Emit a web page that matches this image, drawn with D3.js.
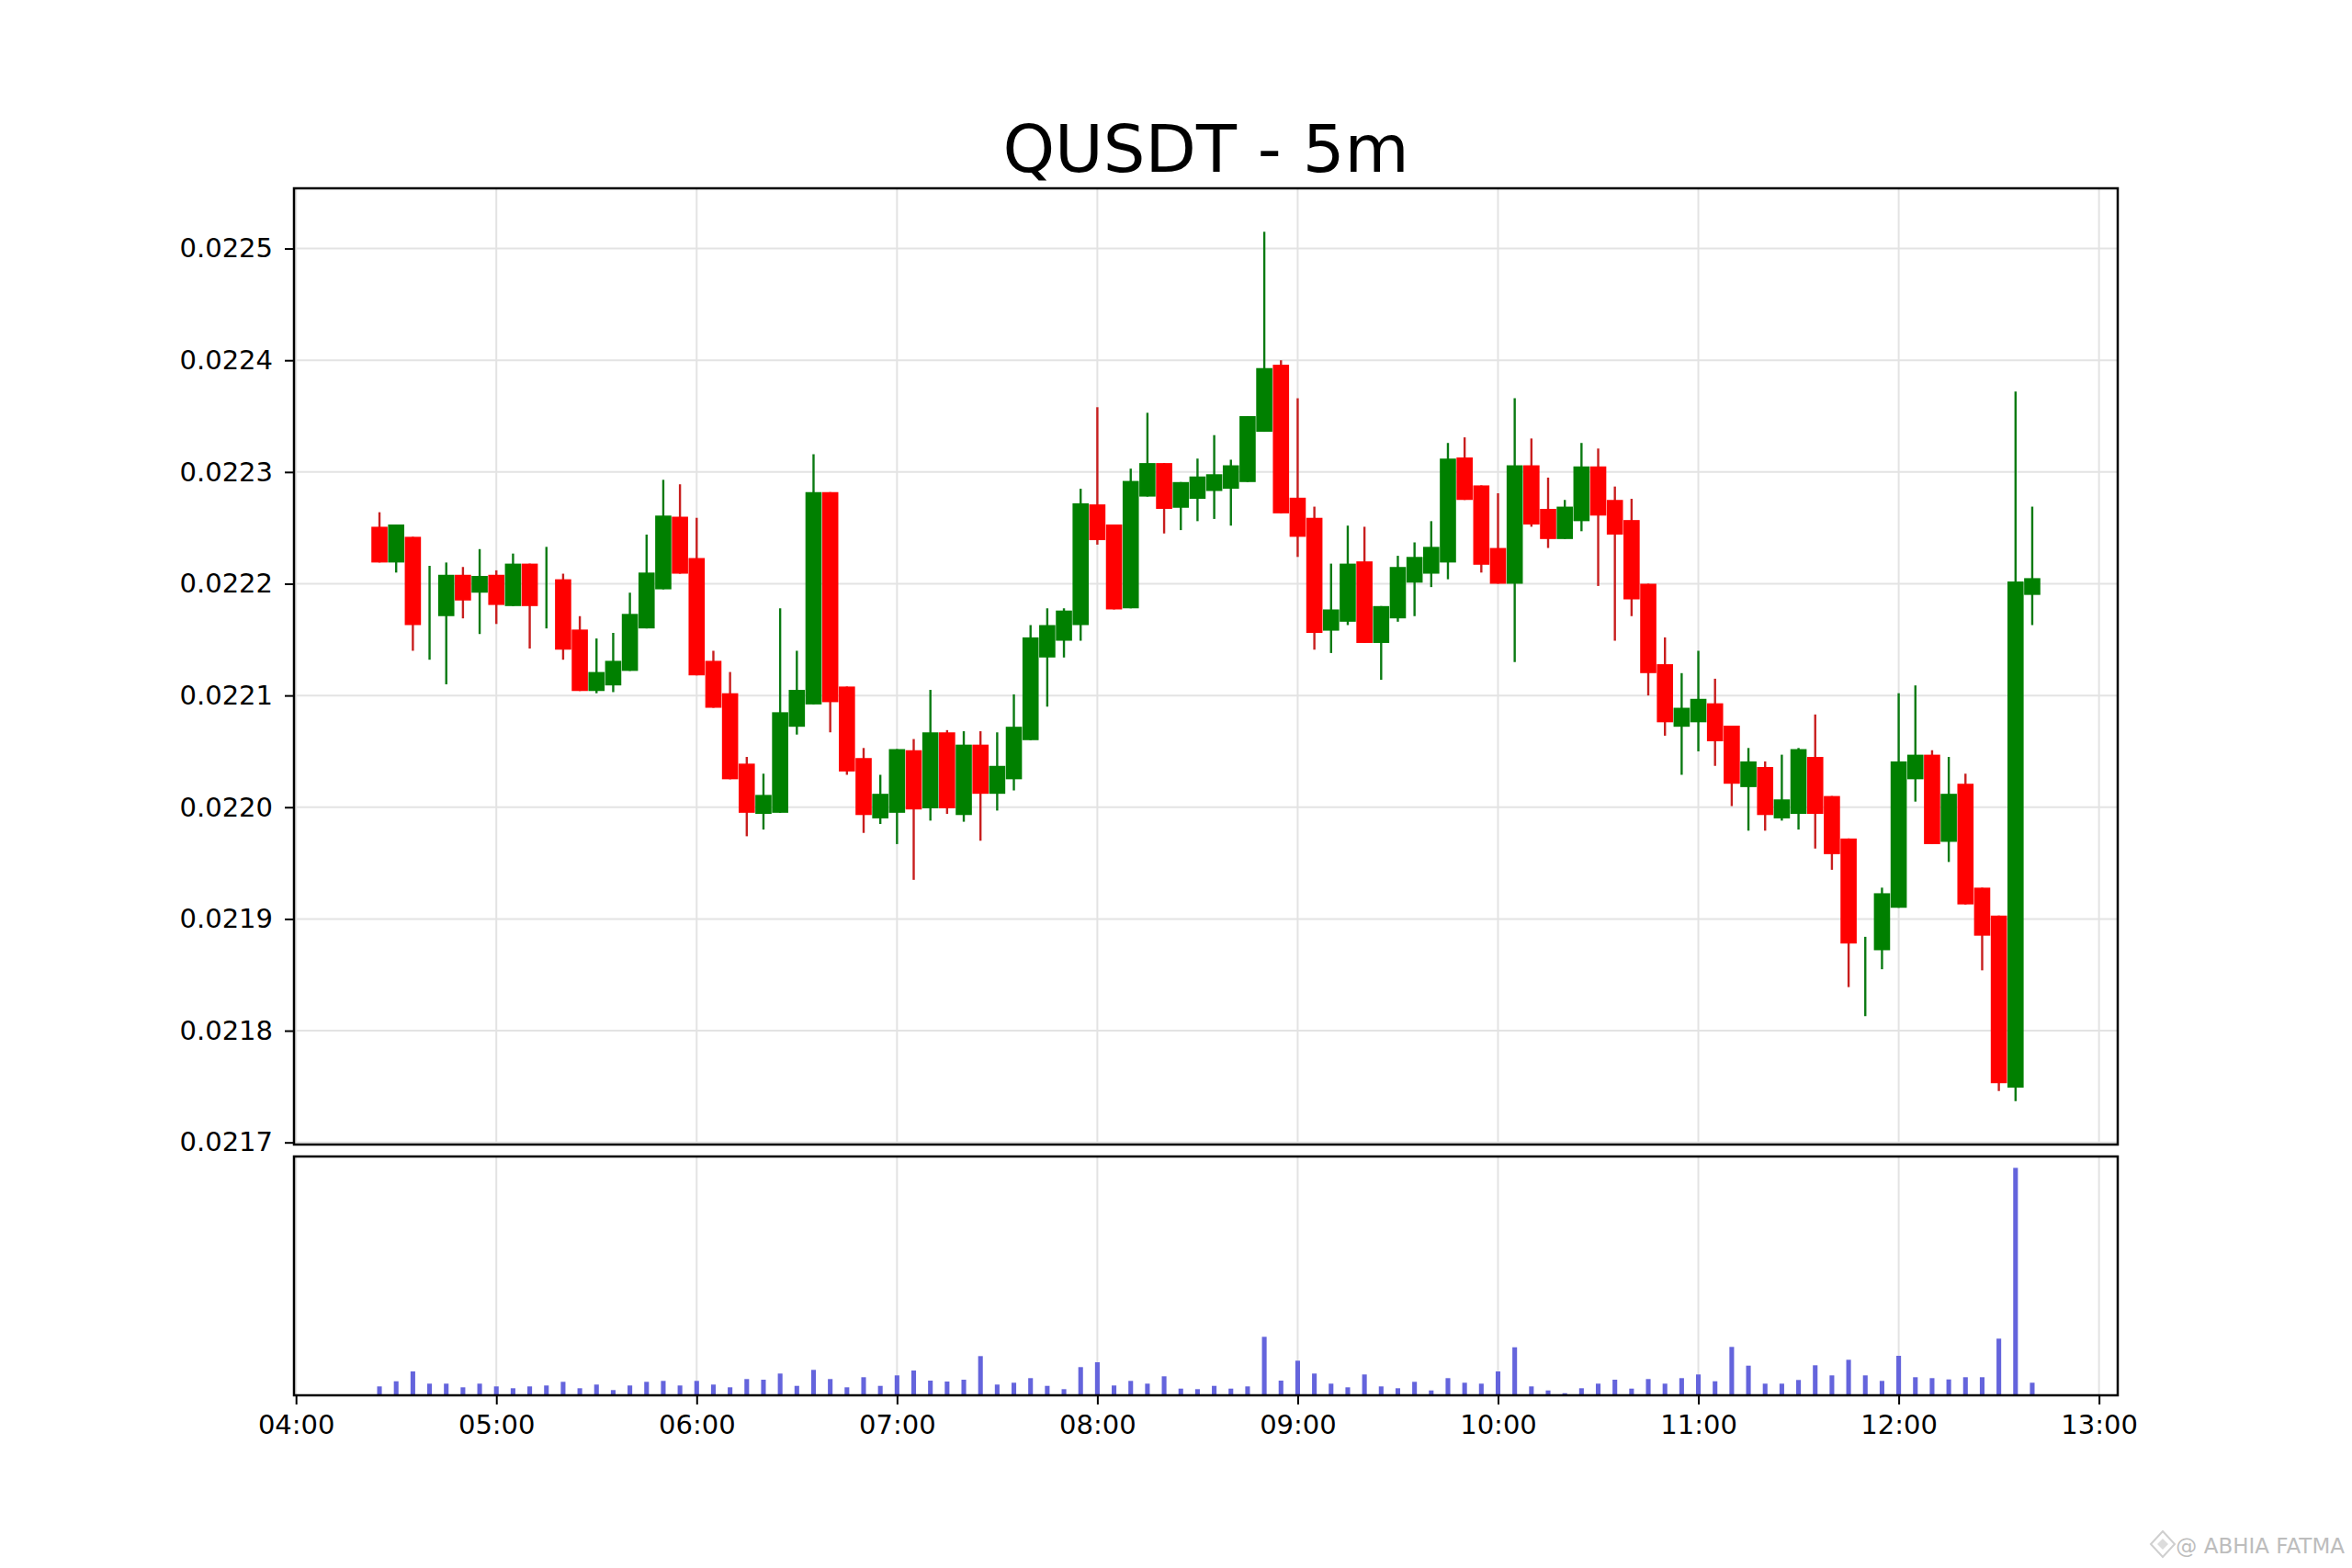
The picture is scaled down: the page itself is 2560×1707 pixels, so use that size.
<!DOCTYPE html>
<html>
<head>
<meta charset="utf-8">
<script src="https://cdn.jsdelivr.net/npm/d3@7"></script>
<style>
  html, body { margin: 0; padding: 0; background: #fff; }
  svg { display: block; font-family: "DejaVu Sans", sans-serif; }
</style>
</head>
<body>
<svg id="chart" width="2560" height="1707"></svg>
<script>
// 5 minute candles, QUSDT
const times = [
  "04:25","04:30","04:35","04:40","04:45","04:50","04:55",
  "05:00","05:05","05:10","05:15","05:20","05:25","05:30","05:35","05:40","05:45","05:50","05:55",
  "06:00","06:05","06:10","06:15","06:20","06:25","06:30","06:35","06:40","06:45","06:50","06:55",
  "07:00","07:05","07:10","07:15","07:20","07:25","07:30","07:35","07:40","07:45","07:50","07:55",
  "08:00","08:05","08:10","08:15","08:20","08:25","08:30","08:35","08:40","08:45","08:50","08:55",
  "09:00","09:05","09:10","09:15","09:20","09:25","09:30","09:35","09:40","09:45","09:50","09:55",
  "10:00","10:05","10:10","10:15","10:20","10:25","10:30","10:35","10:40","10:45","10:50","10:55",
  "11:00","11:05","11:10","11:15","11:20","11:25","11:30","11:35","11:40","11:45","11:50","11:55",
  "12:00","12:05","12:10","12:15","12:20","12:25","12:30","12:35","12:40"
]

const open = [
  0.022251, 0.022219, 0.022242, 0.022172, 0.022171, 0.022208, 0.022192, 0.022208, 0.022180, 0.022218,
  0.022195, 0.022204, 0.022159, 0.022104, 0.022109, 0.022122, 0.022160, 0.022195, 0.022260, 0.022223,
  0.022131, 0.022102, 0.022039, 0.021994, 0.021995, 0.022072, 0.022092, 0.022282, 0.022108, 0.022044,
  0.021990, 0.021995, 0.022051, 0.021999, 0.022067, 0.021993, 0.022056, 0.022012, 0.022025, 0.022060,
  0.022134, 0.022149, 0.022163, 0.022271, 0.022253, 0.022178, 0.022278, 0.022308, 0.022268, 0.022276,
  0.022283, 0.022285, 0.022291, 0.022336, 0.022396, 0.022277, 0.022259, 0.022158, 0.022166, 0.022220,
  0.022147, 0.022169, 0.022201, 0.022209, 0.022219, 0.022313, 0.022288, 0.022232, 0.022200, 0.022306,
  0.022267, 0.022240, 0.022256, 0.022305, 0.022275, 0.022257, 0.022200, 0.022128, 0.022072, 0.022076,
  0.022093, 0.022073, 0.022018, 0.022036, 0.021990, 0.021994, 0.022045, 0.022010, 0.021972, 0.021870,
  0.021872, 0.021910, 0.022025, 0.022047, 0.021969, 0.022021, 0.021928, 0.021903, 0.021749, 0.022190
]

const high = [
  0.022264, 0.022253, 0.022242, 0.022216, 0.022219, 0.022215, 0.022231, 0.022212, 0.022227, 0.022218,
  0.022233, 0.022209, 0.022171, 0.022151, 0.022156, 0.022192, 0.022244, 0.022293, 0.022289, 0.022259,
  0.022140, 0.022121, 0.022045, 0.022030, 0.022178, 0.022140, 0.022316, 0.022282, 0.022108, 0.022053,
  0.022029, 0.022052, 0.022061, 0.022105, 0.022069, 0.022068, 0.022068, 0.022067, 0.022101, 0.022163,
  0.022178, 0.022178, 0.022285, 0.022358, 0.022253, 0.022303, 0.022353, 0.022308, 0.022291, 0.022312,
  0.022333, 0.022311, 0.022350, 0.022515, 0.022400, 0.022366, 0.022269, 0.022218, 0.022252, 0.022251,
  0.022180, 0.022225, 0.022237, 0.022256, 0.022326, 0.022331, 0.022288, 0.022281, 0.022366, 0.022330,
  0.022295, 0.022275, 0.022326, 0.022321, 0.022287, 0.022276, 0.022200, 0.022152, 0.022120, 0.022140,
  0.022115, 0.022073, 0.022053, 0.022041, 0.022047, 0.022053, 0.022083, 0.022010, 0.021972, 0.021884,
  0.021928, 0.022102, 0.022109, 0.022051, 0.022045, 0.022030, 0.021928, 0.021903, 0.022372, 0.022269
]

const low = [
  0.022219, 0.022210, 0.022140, 0.022132, 0.022110, 0.022169, 0.022155, 0.022164, 0.022180, 0.022142,
  0.022160, 0.022132, 0.022104, 0.022102, 0.022103, 0.022122, 0.022160, 0.022195, 0.022209, 0.022118,
  0.022089, 0.022025, 0.021974, 0.021980, 0.021995, 0.022065, 0.022092, 0.022067, 0.022029, 0.021977,
  0.021985, 0.021967, 0.021935, 0.021988, 0.021994, 0.021987, 0.021970, 0.021997, 0.022015, 0.022060,
  0.022090, 0.022134, 0.022149, 0.022235, 0.022177, 0.022178, 0.022278, 0.022245, 0.022248, 0.022256,
  0.022258, 0.022252, 0.022291, 0.022336, 0.022263, 0.022224, 0.022141, 0.022138, 0.022163, 0.022147,
  0.022114, 0.022166, 0.022171, 0.022197, 0.022204, 0.022275, 0.022210, 0.022200, 0.022130, 0.022251,
  0.022232, 0.022240, 0.022247, 0.022198, 0.022149, 0.022171, 0.022100, 0.022064, 0.022029, 0.022050,
  0.022037, 0.022001, 0.021979, 0.021979, 0.021988, 0.021980, 0.021963, 0.021944, 0.021839, 0.021813,
  0.021855, 0.021910, 0.022005, 0.021967, 0.021951, 0.021913, 0.021854, 0.021746, 0.021737, 0.022163
]

const close = [
  0.022219, 0.022253, 0.022163, 0.022172, 0.022208, 0.022185, 0.022207, 0.022181, 0.022218, 0.022180,
  0.022195, 0.022141, 0.022104, 0.022121, 0.022131, 0.022173, 0.022210, 0.022261, 0.022209, 0.022118,
  0.022089, 0.022025, 0.021995, 0.022011, 0.022085, 0.022105, 0.022282, 0.022094, 0.022032, 0.021993,
  0.022012, 0.022052, 0.021998, 0.022067, 0.021999, 0.022056, 0.022012, 0.022037, 0.022072, 0.022152,
  0.022163, 0.022176, 0.022272, 0.022239, 0.022177, 0.022292, 0.022308, 0.022267, 0.022291, 0.022296,
  0.022298, 0.022306, 0.022350, 0.022393, 0.022263, 0.022242, 0.022156, 0.022177, 0.022218, 0.022147,
  0.022180, 0.022215, 0.022224, 0.022233, 0.022312, 0.022275, 0.022217, 0.022200, 0.022306, 0.022253,
  0.022240, 0.022269, 0.022305, 0.022261, 0.022244, 0.022186, 0.022120, 0.022076, 0.022089, 0.022097,
  0.022059, 0.022021, 0.022041, 0.021993, 0.022007, 0.022052, 0.021994, 0.021958, 0.021878, 0.021870,
  0.021923, 0.022041, 0.022047, 0.021967, 0.022012, 0.021913, 0.021885, 0.021753, 0.022202, 0.022205
]

const volume = [
  970, 1530, 2600, 1270, 1270, 870, 1270, 970, 770, 970,
  1070, 1470, 770, 1170, 570, 1070, 1470, 1570, 1070, 1570,
  1170, 870, 1770, 1700, 2370, 1030, 2770, 1770, 870, 1970,
  1030, 2170, 2700, 1600, 1500, 1700, 4270, 1170, 1370, 1870,
  1030, 670, 3070, 3600, 1070, 1570, 1270, 2070, 730, 670,
  1030, 730, 970, 6370, 1600, 3770, 2370, 1270, 870, 2270,
  970, 770, 1470, 530, 1870, 1370, 1270, 2600, 5230, 970,
  530, 230, 770, 1270, 1700, 730, 1770, 1270, 1870, 2270,
  1530, 5270, 3230, 1270, 1270, 1670, 3270, 2170, 3870, 2170,
  1570, 4300, 1970, 1870, 1730, 1970, 1970, 6170, 24770, 1370
]

const priceTicks = [0.0217, 0.0218, 0.0219, 0.0220, 0.0221, 0.0222, 0.0223, 0.0224, 0.0225]

const title = "QUSDT - 5m"

const svg = d3.select("#chart")
const W = 2560, H = 1707
svg.append("rect").attr("width", W).attr("height", H).attr("fill", "#fff")

const main = { left: 320, right: 2305, top: 205, bottom: 1246 }
const vol = { top: 1259, bottom: 1519 }

const parseTime = d3.timeParse("%H:%M")
const candles = times.map((t, i) => ({
  date: parseTime(t),
  open: open[i], high: high[i], low: low[i], close: close[i],
  volume: volume[i]
}))

// matplotlib-like auto margins
const MIN = 60000
const padX = 25.6 * MIN
const x = d3.scaleTime()
  .domain([new Date(+candles[0].date - padX), new Date(+candles[candles.length - 1].date + padX)])
  .range([main.left, main.right])

const lo = d3.min(low), hi = d3.max(high)
const padY = (hi - lo) * 0.05
const y = d3.scaleLinear()
  .domain([lo - padY, hi + padY])
  .range([main.bottom, main.top])

const yv = d3.scaleLinear()
  .domain([0, d3.max(volume) * 1.05])
  .range([vol.bottom, vol.top])

const bodyW = x(new Date(+candles[0].date + 4.85 * MIN)) - x(candles[0].date)
const volW = x(new Date(+candles[0].date + 1.4 * MIN)) - x(candles[0].date)

const hourTicks = x.ticks(d3.timeHour.every(1))
const gridColor = "#e3e3e3"

// Grid lines
const grid = svg.append("g")
grid.selectAll("line.vmain")
  .data(hourTicks.filter(d => x(d) > main.left + 1 && x(d) < main.right - 1))
  .join("line")
  .attr("x1", d => x(d)).attr("x2", d => x(d))
  .attr("y1", main.top).attr("y2", main.bottom)
  .attr("stroke", gridColor).attr("stroke-width", 2)
grid.selectAll("line.vvol")
  .data(hourTicks.filter(d => x(d) > main.left + 1 && x(d) < main.right - 1))
  .join("line")
  .attr("class", "vvol")
  .attr("x1", d => x(d)).attr("x2", d => x(d))
  .attr("y1", vol.top).attr("y2", vol.bottom)
  .attr("stroke", gridColor).attr("stroke-width", 2)
grid.selectAll("line.h")
  .data(priceTicks)
  .join("line")
  .attr("class", "h")
  .attr("x1", main.left).attr("x2", main.right)
  .attr("y1", d => y(d)).attr("y2", d => y(d))
  .attr("stroke", gridColor).attr("stroke-width", 2)

// Candles
const up = "#008000", down = "#ff0000"
const wickUp = "#0a7a12", wickDown = "#c81e1e"
const cg = svg.append("g")
cg.selectAll("line.wick")
  .data(candles)
  .join("line")
  .attr("class", "wick")
  .attr("x1", d => x(d.date)).attr("x2", d => x(d.date))
  .attr("y1", d => y(d.high)).attr("y2", d => y(d.low))
  .attr("stroke", d => d.close >= d.open ? wickUp : wickDown)
  .attr("stroke-width", 2.4)

cg.selectAll("rect.body")
  .data(candles)
  .join("rect")
  .attr("class", "body")
  .attr("x", d => x(d.date) - bodyW / 2)
  .attr("width", bodyW)
  .attr("y", d => y(Math.max(d.open, d.close)))
  .attr("height", d => Math.abs(y(d.open) - y(d.close)))
  .attr("fill", d => d.close >= d.open ? up : down)

// Volume bars
svg.append("g").selectAll("rect")
  .data(candles)
  .join("rect")
  .attr("x", d => x(d.date) - volW / 2)
  .attr("width", volW)
  .attr("y", d => yv(d.volume))
  .attr("height", d => yv(0) - yv(d.volume))
  .attr("fill", "#6464dc")

// Axes
const yAxis = svg.append("g")
  .attr("transform", `translate(${main.left},0)`)
  .call(d3.axisLeft(y).tickValues(priceTicks).tickFormat(d3.format(".4f")).tickSize(10).tickPadding(13))
yAxis.select(".domain").remove()
yAxis.selectAll("line").attr("stroke", "#000").attr("stroke-width", 2)
yAxis.selectAll("text")
  .attr("font-family", "DejaVu Sans")
  .attr("font-size", 29)
  .attr("fill", "#000")

const xAxis = svg.append("g")
  .attr("transform", `translate(0,${vol.bottom})`)
  .call(d3.axisBottom(x).tickValues(hourTicks).tickFormat(d3.timeFormat("%H:%M")).tickSize(10).tickPadding(11))
xAxis.select(".domain").remove()
xAxis.selectAll("line").attr("stroke", "#000").attr("stroke-width", 2)
xAxis.selectAll("text")
  .attr("font-family", "DejaVu Sans")
  .attr("font-size", 29)
  .attr("fill", "#000")

// Frames
svg.append("rect")
  .attr("x", main.left).attr("y", main.top)
  .attr("width", main.right - main.left).attr("height", main.bottom - main.top)
  .attr("fill", "none").attr("stroke", "#000").attr("stroke-width", 2.5)
svg.append("rect")
  .attr("x", main.left).attr("y", vol.top)
  .attr("width", main.right - main.left).attr("height", vol.bottom - vol.top)
  .attr("fill", "none").attr("stroke", "#000").attr("stroke-width", 2.5)

// Title
svg.append("text")
  .attr("x", (main.left + main.right) / 2)
  .attr("y", 187)
  .attr("text-anchor", "middle")
  .attr("font-family", "DejaVu Sans")
  .attr("font-size", 72)
  .attr("fill", "#000")
  .text(title)

// Watermark
const wm = svg.append("g").attr("fill", "none").attr("stroke", "#cfcfcf").attr("stroke-width", 2)
wm.append("path").attr("d", "M2354,1667 L2367,1681 L2354,1695 L2341,1681 Z")
wm.append("path").attr("d", "M2354,1675 L2360,1681 L2354,1687 L2348,1681 Z").attr("fill", "#dcdcdc").attr("stroke", "none")
svg.append("text")
  .attr("x", 2552)
  .attr("y", 1691)
  .attr("text-anchor", "end")
  .attr("font-family", "DejaVu Sans")
  .attr("font-size", 23)
  .attr("fill", "#bdbdbd")
  .text("@ ABHIA FATMA")
</script>
</body>
</html>
